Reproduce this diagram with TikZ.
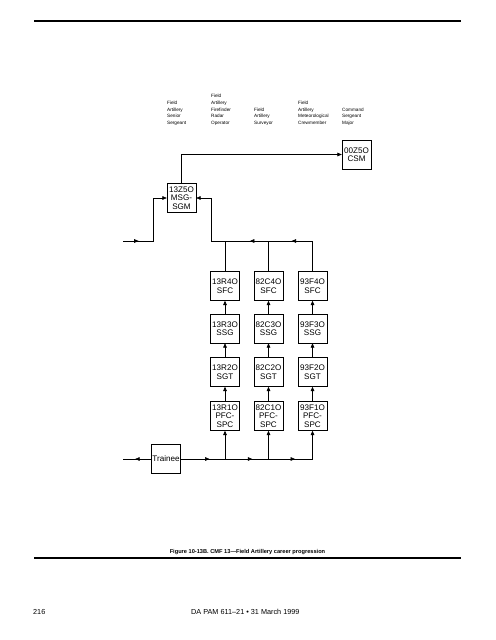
\documentclass[tikz,border=0pt]{standalone}
\usepackage{fontspec}
\setmainfont{Liberation Sans}
\usetikzlibrary{arrows.meta,decorations.markings}

\tikzset{
  mos/.style={draw, line width=0.8pt, minimum width=35.5pt, minimum height=35.5pt,
    inner sep=1pt, align=center, font=\fontsize{10}{10.5}\selectfont},
  hdr/.style={anchor=south west, inner sep=0pt, align=left,
    font=\fontsize{5.8}{8.2}\selectfont},
  flow/.style={line width=0.8pt, >={Triangle[length=5.5pt,width=4.5pt]}},
  arrat/.style={postaction={decorate, decoration={markings,
    mark=at position #1 with {\arrow{Triangle[length=5.5pt,width=4.5pt]}}}}},
}

\begin{document}
\begin{tikzpicture}[x=1.23636pt, y=-1.23636pt]
  \useasboundingbox (0,0) rectangle (495,640);

  % Page rules
  \draw[line width=1.4pt] (34,21) -- (461,21);
  \draw[line width=1.4pt] (34,558) -- (461,558);

  % Column headings
  \foreach \x/\t in {167/{Field\\Artillery\\Senior\\Sergeant},
      211/{Field\\Artillery\\Firefinder\\Radar\\Operator},
      254/{Field\\Artillery\\Surveyor},
      298/{Field\\Artillery\\Meteorological\\Crewmember},
      342/{Command\\Sergeant\\Major}}
    \node[hdr] at (\x,126.5) {\t\strut};

  % Top boxes
  \node[mos] (csm) at (356.5,154.5) {00Z5O\\CSM};
  \node[mos] (msg) at (181.5,198) {13Z5O\\MSG-\\SGM};
  \node[mos] (trainee) at (166,459) {Trainee};

  % MOS ladders
  \foreach \x/\i/\m in {225/1/13R,268.5/2/82C,312.5/3/93F}
    \foreach \y/\lv/\rk in {416/1/{PFC-\\SPC},372/2/SGT,328.5/3/SSG,286/4/SFC}
      \node[mos] (b\i\lv) at (\x,\y) {\m\lv O\\\rk};

  % Promotion arrows
  \foreach \i in {1,2,3}
    \foreach \lv/\up in {1/2,2/3,3/4}
      \draw[flow,->] (b\i\lv) -- (b\i\up);

  \coordinate (jl) at (153,241);
  \coordinate (jr) at (211,241);
  \coordinate (lin) at (123,241);
  \coordinate (lout) at (123,459);

  % Feeders into 13Z5O
  \draw[flow,->,arrat=0.18] (lin) -- (jl) |- (msg.west);
  \draw[flow,->,arrat=0.27,arrat=0.49] (b34.north) |- (jr) |- (msg.east);
  \draw[flow] (b14.north) -- (b14.north |- jr);
  \draw[flow] (b24.north) -- (b24.north |- jr);
  \draw[flow,->] (msg.north) |- (csm.west);

  % Trainee entry
  \draw[flow,->,arrat=0.18,arrat=0.447,arrat=0.714] (trainee.east) -| (b31.south);
  \draw[flow,->] (b11.south |- trainee.east) -- (b11.south);
  \draw[flow,->] (b21.south |- trainee.east) -- (b21.south);
  \draw[flow,arrat=0.57] (trainee.west) -- (lout);

  % Caption and footer
  \node[font=\bfseries\fontsize{7}{8}\selectfont] (cap) at (247.5,552)
    {Figure 10-13B. CMF 13---Field Artillery career progression};
  \node[anchor=west, inner sep=0pt, font=\fontsize{9}{10}\selectfont] (pg) at (33,612) {216};
  \node[anchor=west, inner sep=0pt, font=\fontsize{9}{10}\selectfont] (pub) at (191,612)
    {DA PAM 611–21 • 31 March 1999};
\end{tikzpicture}
\end{document}
